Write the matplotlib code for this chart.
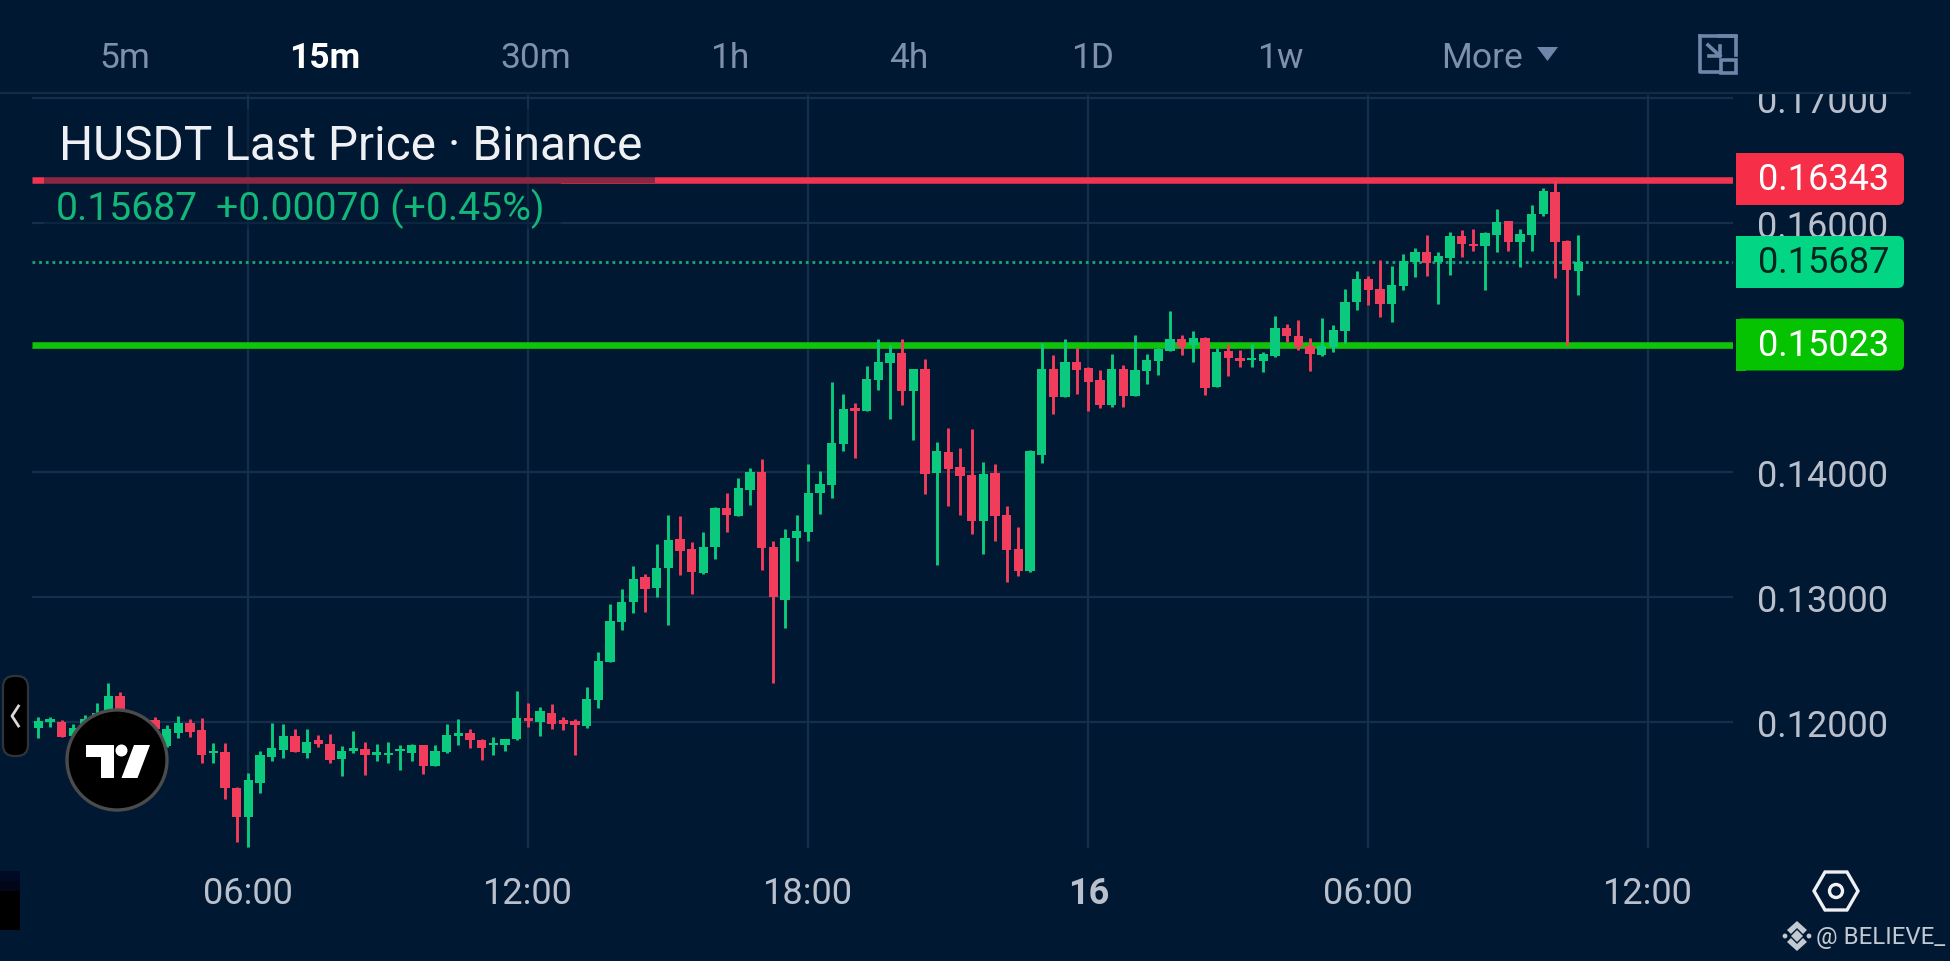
import numpy as np
import matplotlib
matplotlib.use("Agg")
import matplotlib.pyplot as plt
from matplotlib.patches import Rectangle, Circle, Polygon, FancyBboxPatch

plt.rcParams['font.family'] = ['Roboto', 'DejaVu Sans']

# 15m candles
opens = [.11952,.12000,.12000,.11885,.11973,.12027,.12086,.12206,.12013,.11973,
         .12013,.11805,.11912,.11992,.11933,.11746,.11759,.11471,.11238,.11511,
         .11719,.11773,.11885,.11751,.11853,.11821,.11703,.11765,.11781,.11733,
         .11730,.11762,.11751,.11813,.11644,.11757,.11885,.11912,.11853,.11810,
         .11813,.11858,.12029,.12000,.12072,.12013,.12003,.11965,.12173,.12477,
         .12803,.12963,.13157,.13069,.13235,.13469,.13389,.13192,.13405,.13712,
         .13653,.13859,.14003,.13405,.12979,.13477,.13523,.13837,.13898,.14227,
         .14519,.14492,.14741,.14880,.14960,.14655,.14832,.13992,.14163,.14045,
         .13979,.13610,.13997,.13658,.13388,.13209,.14142,.14832,.14607,.14885,
         .14834,.14741,.14543,.14832,.14612,.14816,.14896,.14976,.15067,.15019,
         .15080,.14687,.14976,.14917,.14901,.14896,.14930,.15155,.15091,.15016,
         .14938,.15003,.15136,.15364,.15553,.15473,.15353,.15497,.15684,.15765,
         .15684,.15719,.15893,.15834,.15813,.15906,.16013,.15845,.15901,.16072,
         .16251,.15856,.15618]
closes = [.12008,.12019,.11880,.11952,.12019,.12072,.12206,.12088,.11933,.11906,
          .11938,.11938,.11987,.11920,.11733,.11767,.11465,.11238,.11532,.11735,
          .11786,.11885,.11759,.11837,.11821,.11692,.11765,.11789,.11733,.11759,
          .11749,.11781,.11813,.11644,.11767,.11890,.11906,.11853,.11786,.11826,
          .11858,.12029,.12003,.12088,.11981,.11981,.11976,.12182,.12485,.12811,
          .12963,.13147,.13067,.13235,.13459,.13371,.13203,.13405,.13717,.13661,
          .13875,.14003,.13397,.12997,.13477,.13531,.13837,.13907,.14238,.14511,
          .14495,.14749,.14885,.14960,.14655,.14829,.13987,.14174,.14027,.13973,
          .13610,.13989,.13652,.13377,.13211,.14171,.14832,.14604,.14885,.14821,
          .14725,.14537,.14829,.14612,.14821,.14901,.14989,.15067,.15008,.15075,
          .14674,.14965,.14917,.14896,.14917,.14949,.15155,.15091,.15005,.14949,
          .15011,.15144,.15366,.15553,.15460,.15353,.15505,.15692,.15765,.15679,
          .15733,.15893,.15829,.15813,.15920,.16008,.15850,.15909,.16075,.16254,
          .15845,.15620,.15687]
highs = [.12040,.12035,.12013,.11981,.12056,.12152,.12313,.12241,.12053,.11987,
         .12040,.11973,.12045,.12021,.12029,.11832,.11832,.11479,.11586,.11765,
         .11992,.11981,.11938,.11941,.11896,.11901,.11805,.11925,.11837,.11821,
         .11837,.11815,.11821,.11813,.11813,.11981,.12021,.11941,.11864,.11874,
         .11864,.12249,.12152,.12120,.12142,.12040,.12021,.12281,.12560,.12947,
         .13067,.13245,.13187,.13427,.13659,.13651,.13445,.13523,.13725,.13837,
         .13957,.14035,.14107,.13451,.13549,.13661,.14067,.14011,.14725,.14628,
         .14554,.14853,.15070,.15021,.15070,.14829,.14912,.14246,.14358,.14193,
         .14350,.14083,.14067,.13730,.13564,.14179,.15040,.14944,.15070,.14997,
         .14848,.14821,.14952,.14864,.15102,.14952,.14995,.15294,.15102,.15134,
         .15088,.14995,.15029,.14984,.15029,.14965,.15251,.15192,.15219,.15077,
         .15241,.15184,.15471,.15618,.15578,.15706,.15658,.15754,.15802,.15906,
         .15767,.15928,.15947,.15955,.15925,.16115,.16013,.15955,.16147,.16281,
         .16343,.15866,.15906]
lows = [.11866,.11960,.11874,.11880,.11947,.12000,.12053,.12040,.11893,.11880,
        .11906,.11799,.11872,.11874,.11671,.11671,.11382,.11037,.10992,.11430,
        .11687,.11709,.11757,.11709,.11794,.11671,.11567,.11751,.11572,.11687,
        .11671,.11612,.11687,.11580,.11644,.11751,.11813,.11791,.11692,.11733,
        .11767,.11853,.11960,.11885,.11941,.11933,.11733,.11947,.12112,.12477,
        .12739,.12872,.12883,.12997,.12779,.13179,.13024,.13187,.13307,.13523,
        .13651,.13739,.13219,.12307,.12752,.13291,.13451,.13667,.13797,.14171,
        .14115,.14492,.14660,.14428,.14537,.14259,.13824,.13257,.13730,.13658,
        .13505,.13345,.13449,.13123,.13171,.13203,.14078,.14465,.14602,.14628,
        .14492,.14519,.14524,.14524,.14612,.14711,.14781,.14976,.14939,.14885,
        .14618,.14682,.14773,.14842,.14842,.14802,.14922,.15043,.14979,.14810,
        .14930,.14962,.15037,.15299,.15345,.15243,.15203,.15460,.15564,.15578,
        .15353,.15586,.15725,.15778,.15465,.15765,.15778,.15644,.15773,.16053,
        .15556,.15023,.15425]

x_tick_pos = [18, 42, 66, 90, 114, 138]
x_tick_labels = ["06:00", "12:00", "18:00", "16", "06:00", "12:00"]
y_ticks = [0.12, 0.13, 0.14, 0.15, 0.16, 0.17]
y_tick_labels = ["0.12000", "0.13000", "0.14000", "", "0.16000", "0.17000"]

high_line = 0.16343
low_line = 0.15023
last_price = 0.15687

timeframes = ["5m", "15m", "30m", "1h", "4h", "1D", "1w", "More"]
timeframe_x = [125, 325, 536, 730, 909, 1093, 1280, 1482]

BG = "#011833"
GRID = "#142f49"
GREEN = "#0bc97d"
RED = "#f23c5b"
W, H = 1950, 962

fig = plt.figure(figsize=(W / 100, H / 100), dpi=100, facecolor=BG)
ax = fig.add_axes([32 / W, 1 - 849 / H, 1701 / W, 753 / H], facecolor=BG)

o = np.array(opens)
c = np.array(closes)
hi = np.array(highs)
lo = np.array(lows)
x = np.arange(len(o))
colors = [GREEN if cl >= op else RED for op, cl in zip(o, c)]

ax.set_xlim(-0.54, 145.26)
ax.set_ylim(0.10987, 0.17027)
ax.grid(True, color=GRID, lw=1.6)
ax.set_axisbelow(True)
for s in ax.spines.values():
    s.set_visible(False)

ax.set_xticks(x_tick_pos)
ax.set_xticklabels(x_tick_labels, fontsize=26, color="#b9c0cc")
ax.get_xticklabels()[3].set_fontweight("bold")
ax.yaxis.tick_right()
ax.set_yticks(y_ticks)
ax.set_yticklabels(y_tick_labels, fontsize=26, color="#b9c0cc")
ax.tick_params(axis="both", length=0)
ax.tick_params(axis="x", pad=19.8)
ax.tick_params(axis="y", pad=17.2)

ax.axhline(high_line, color="#ee3450", lw=4.7, zorder=2, solid_capstyle="butt")
ax.axhline(low_line, color="#10c40a", lw=4.7, zorder=2, solid_capstyle="butt")
ax.axhline(last_price, color="#1aa87a", lw=2.0, ls=(0, (1, 1.4)), zorder=2)

ax.vlines(x, lo, hi, colors=colors, lw=2.1, zorder=3)
ax.bar(x, np.abs(c - o), bottom=np.minimum(o, c), width=0.8, color=colors, zorder=4)

# everything around the chart is drawn in pixel coordinates
ov = fig.add_axes([0, 0, 1, 1], facecolor="none", zorder=5)
ov.set_xlim(0, W)
ov.set_ylim(H, 0)
ov.axis("off")

ov.add_patch(Rectangle((0, 0), W, 94, color=BG, lw=0))
ov.plot([0, 1910], [94, 94], color="#0f2e45", lw=1.6)
# legend backing dims the grid and the red line under it
ov.add_patch(Rectangle((44, 110), 611, 74, color=BG, alpha=0.42, lw=0))
ov.add_patch(Rectangle((44, 184), 517, 46, color=BG, alpha=0.42, lw=0))

for name, tx in zip(timeframes, timeframe_x):
    active = name == "15m"
    ov.text(tx, 58.5, name, ha="center", va="center", fontsize=25.5,
            color="white" if active else "#7f90aa", fontweight="bold" if active else "normal")
ov.add_patch(Polygon([(1537, 48), (1558, 48), (1547.5, 62)], color="#6f86aa", lw=0))

# collapse icon
ov.plot([1719, 1736, 1736], [37, 37, 56], color="#6f86aa", lw=2.6)
ov.plot([1700, 1700, 1720], [37, 73, 73], color="#6f86aa", lw=2.6)
ov.plot([1700, 1736], [37, 37], color="#6f86aa", lw=2.6)
ov.add_patch(Rectangle((1721, 61), 15, 13, fill=False, ec="#6f86aa", lw=2.6))
ov.plot([1708, 1720], [46, 57], color="#6f86aa", lw=2.6)
ov.plot([1720, 1720, 1709], [47, 57, 57], color="#6f86aa", lw=2.6)

ov.text(59, 147.5, "HUSDT Last Price · Binance", ha="left", va="center", fontsize=34.4, color="#eef0f3")
ov.text(56, 209, "0.15687", ha="left", va="center", fontsize=28.2, color="#13b77a")
ov.text(216, 209, "+0.00070 (+0.45%)", ha="left", va="center", fontsize=28.2, color="#13b77a")

# last price badges
badges = [(180, "0.16343", "#f62e48", "white"),
          (263, "0.15687", "#02d584", "#06241f"),
          (345.5, "0.15023", "#06c300", "white")]
for by, label, col, tc in badges:
    ov.add_patch(FancyBboxPatch((1740, by - 22), 160, 44, boxstyle="round,pad=4,rounding_size=6",
                                color=col, lw=0))
    ov.add_patch(Rectangle((1736, by - 26), 10, 52, color=col, lw=0))
    ov.text(1758, by + 0.5, label, ha="left", va="center", fontsize=26, color=tc)

# tradingview logo and the side tab
ov.add_patch(Circle((117, 761), 50, fc="black", ec="#4b4b4b", lw=2.4))
ov.add_patch(Polygon([(86, 746), (113.5, 746), (113.5, 779), (101, 779), (101, 757.5), (86, 757.5)], color="white", lw=0))
ov.add_patch(Circle((121.5, 751.5), 6, color="white", lw=0))
ov.add_patch(Polygon([(134, 746), (150, 746), (137.5, 779), (121.5, 779)], color="white", lw=0))
ov.add_patch(FancyBboxPatch((7, 681), 17, 72, boxstyle="round,pad=4,rounding_size=11",
                            fc="black", ec="#30343a", lw=1.6))
ov.plot([18.5, 12, 18.5], [707, 717, 727], color="#d8d8d8", lw=2)

# dark corner at bottom left
ov.add_patch(Rectangle((0, 872), 20, 10, color="#010a24", lw=0))
ov.add_patch(Rectangle((0, 882), 20, 10, color="#010618", lw=0))
ov.add_patch(Rectangle((0, 892), 20, 39, color="#000000", lw=0))

# settings hexagon
ov.add_patch(Polygon([(1814, 892), (1825, 873), (1847, 873), (1858, 892), (1847, 911), (1825, 911)],
                     fill=False, ec="#eef0f3", lw=2.4))
ov.add_patch(Circle((1836, 892), 6.5, fill=False, ec="#eef0f3", lw=2.4))

# watermark
wm = "#c3c9d0"
ov.add_patch(Polygon([(1797, 931), (1803, 937), (1797, 943), (1791, 937)], color=wm, lw=0))
ov.add_patch(Polygon([(1797, 922), (1807, 931), (1803, 935), (1797, 929), (1791, 935), (1787, 931)], color=wm, lw=0))
ov.add_patch(Polygon([(1797, 952), (1807, 943), (1803, 939), (1797, 945), (1791, 939), (1787, 943)], color=wm, lw=0))
ov.add_patch(Circle((1785, 937), 2.4, color=wm, lw=0))
ov.add_patch(Circle((1809, 937), 2.4, color=wm, lw=0))
ov.text(1816, 938, "@ BELIEVE_", ha="left", va="center", fontsize=17.3, color=wm)

fig.savefig("out.png", dpi=100, facecolor=BG)
